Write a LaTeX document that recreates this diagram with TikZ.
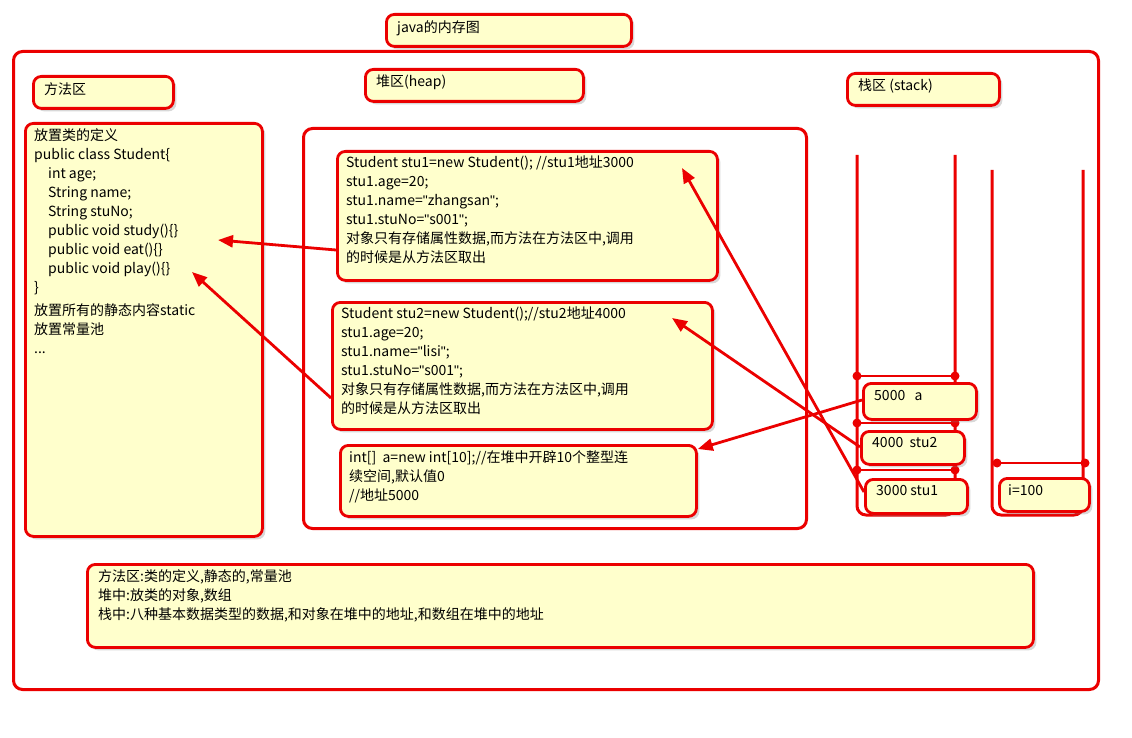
\documentclass[tikz,border=0pt]{standalone}
\usepackage{fontspec}
\setmainfont{Noto Sans CJK SC}
\newfontfamily\latfont{Liberation Sans}
\newcommand{\dq}{{\latfont\symbol{34}}}
\usetikzlibrary{shadows,arrows.meta}
\definecolor{notefill}{RGB}{255,255,204}
\definecolor{linered}{RGB}{235,0,0}

\begin{document}
\begin{tikzpicture}[
    x=1pt, y=-1pt,
    every node/.style={font=\fontsize{14}{19}\selectfont},
    box/.style={rectangle, draw=linered, line width=2.8pt, fill=notefill, rounded corners=8pt, anchor=north west, inner sep=0pt, drop shadow={shadow xshift=3pt, shadow yshift=-3pt, opacity=.3}},
    frame/.style={rectangle, draw=linered, line width=3pt, fill=white, rounded corners=9pt, anchor=north west, inner sep=0pt},
    txt/.style={anchor=north west, align=left, inner sep=0pt},
    arrow/.style={-{Triangle[length=15pt,width=12pt]}, draw=linered, line width=2.8pt},
    wall/.style={draw=linered, line width=3pt, rounded corners=9pt},
    dotline/.style={draw=linered, line width=2.8pt},
    dot/.style={circle, fill=linered, inner sep=0pt, minimum size=9pt}
]
\useasboundingbox (0,0) rectangle (1132,738);

% outer frame and title
\node[frame, minimum width=1085pt, minimum height=638pt] (outer) at (12,50) {};
\node[box, minimum width=245pt, minimum height=32pt] (title) at (385,13) {};
\node[txt] (titletxt) at (397,20) {java的内存图};

% area labels
\node[box, minimum width=140pt, minimum height=32pt] (methodlbl) at (32,75) {};
\node[txt] (methodlbltxt) at (44,82) {方法区};
\node[box, minimum width=218pt, minimum height=32pt] (heaplbl) at (364,68) {};
\node[txt] (heaplbltxt) at (376,75) {堆区(heap)};
\node[box, minimum width=152pt, minimum height=32pt] (stacklbl) at (846,72) {};
\node[txt] (stacklbltxt) at (858,79) {栈区 (stack)};

% method area
\node[box, minimum width=237pt, minimum height=413pt] (method) at (24,122) {};
\node[txt] (methodtxt) at (34,128) {放置类的定义\\public class Student\{\\
\quad int age;\\\quad String name;\\\quad String stuNo;\\
\quad public void study()\{\}\\\quad public void eat()\{\}\\\quad public void play()\{\}\\
\}\\[4pt]放置所有的静态内容static\\放置常量池\\...};
\coordinate (study) at (218,240);
\coordinate (play) at (192,272);

% heap
\node[frame, minimum width=503pt, minimum height=400pt] (heap) at (302,127) {};
\node[box, minimum width=380pt, minimum height=129pt] (stu1) at (336,150) {};
\node[txt] (stu1txt) at (346,156) {Student stu1=new Student(); //stu1地址3000\\stu1.age=20;\\
stu1.name=\dq zhangsan\dq;\\stu1.stuNo=\dq s001\dq;\\对象只有存储属性数据,而方法在方法区中,调用\\的时候是从方法区取出};
\node[box, minimum width=380pt, minimum height=127pt] (stu2) at (331,301) {};
\node[txt] (stu2txt) at (341,307) {Student stu2=new Student();//stu2地址4000\\stu1.age=20;\\
stu1.name=\dq lisi\dq;\\stu1.stuNo=\dq s001\dq;\\对象只有存储属性数据,而方法在方法区中,调用\\的时候是从方法区取出};
\node[box, minimum width=356pt, minimum height=71pt] (arr) at (339,444) {};
\node[txt] (arrtxt) at (349,450) {int[]\ \ a=new int[10];//在堆中开辟10个整型连\\续空间,默认值0\\//地址5000};

% stacks
\draw[wall] (857,155) -- (857,515) -- (955,515) -- (955,155);
\draw[wall] (992,170) -- (992,515) -- (1083,515) -- (1083,170);
\foreach \y in {376,423,470} {
  \draw[dotline] (857,\y) node[dot] {} -- (955,\y) node[dot] {};
}
\draw[dotline] (997,463) node[dot] {} -- (1085,463) node[dot] {};
\node[box, minimum width=113pt, minimum height=36pt] (vara) at (862,382) {};
\node[txt] (varatxt) at (874,390) {5000\ \ \ a};
\node[box, minimum width=103pt, minimum height=33pt] (varstu2) at (860,430) {};
\node[txt] (varstu2txt) at (872,437) {4000\ \ stu2};
\node[box, minimum width=102pt, minimum height=34pt] (varstu1) at (864,478) {};
\node[txt] (varstu1txt) at (876,485) {3000 stu1};
\node[box, minimum width=90pt, minimum height=33pt] (vari) at (998,477) {};
\node[txt] (varitxt) at (1008,484) {i=100};

% summary
\node[box, minimum width=946pt, minimum height=83pt] (summary) at (86,563) {};
\node[txt] (summarytxt) at (98,569) {方法区:类的定义,静态的,常量池\\堆中:放类的对象,数组\\栈中:八种基本数据类型的数据,和对象在堆中的地址,和数组在堆中的地址};

% references
\draw[arrow] (stu1.west |- 0,250) -- (study);
\draw[arrow] (stu2.west |- 0,398) -- (play);
\draw[arrow] (vara.west |- 0,400) -- (arr.east |- 0,449);
\draw[arrow] (varstu2.west |- 0,447) -- (672,318);
\draw[arrow] (varstu1.west |- 0,492) -- (682,168);
\end{tikzpicture}
\end{document}
